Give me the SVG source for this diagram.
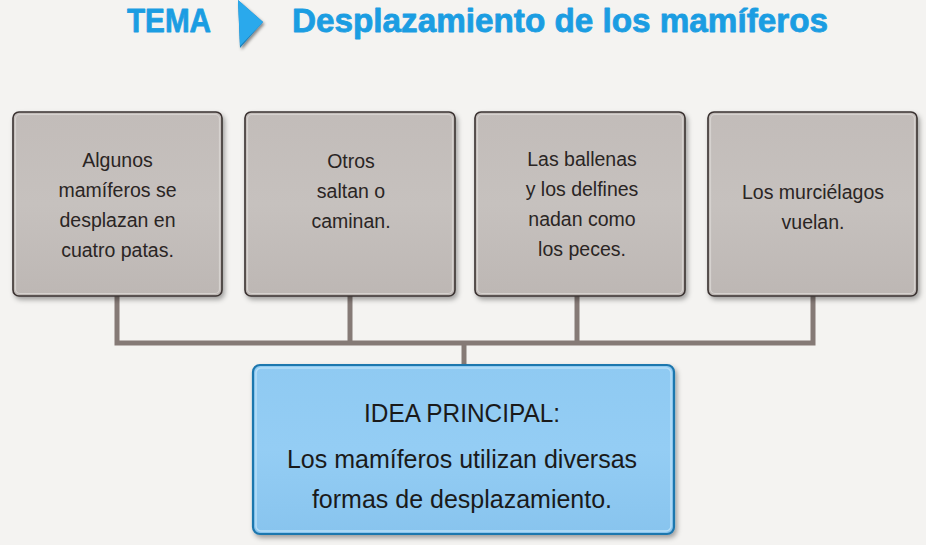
<svg xmlns="http://www.w3.org/2000/svg" width="926" height="545" viewBox="0 0 926 545">
  <defs>
    <linearGradient id="gray" x1="0" y1="0" x2="0" y2="1">
      <stop offset="0" stop-color="#c2bcb9"/>
      <stop offset="0.5" stop-color="#c6c1be"/>
      <stop offset="1" stop-color="#bdb7b4"/>
    </linearGradient>
    <linearGradient id="blue" x1="0" y1="0" x2="0" y2="1">
      <stop offset="0" stop-color="#8fcaf2"/>
      <stop offset="0.5" stop-color="#94cdf4"/>
      <stop offset="1" stop-color="#88c4ee"/>
    </linearGradient>
    <filter id="shadow" x="-10%" y="-10%" width="125%" height="125%">
      <feDropShadow dx="2" dy="3" stdDeviation="2.5" flood-color="#000" flood-opacity="0.35"/>
    </filter>
    <filter id="cshadow" x="-30%" y="-30%" width="180%" height="180%">
      <feDropShadow dx="1.5" dy="2" stdDeviation="1.5" flood-color="#000" flood-opacity="0.45"/>
    </filter>
  </defs>
  <style>
    .title { font-family: "Liberation Sans", Arial, sans-serif; font-weight: bold; font-size: 33px; fill: #1b9de2; stroke: #1b9de2; stroke-width: 0.8; stroke-linejoin: round; }
    .gbox { fill: url(#gray); stroke: #3a3230; stroke-width: 1.6; filter: url(#shadow); }
    .ghl { fill: none; stroke: #d6d2cf; stroke-width: 1.2; }
    .bbox { fill: url(#blue); stroke: #1f77ae; stroke-width: 2.2; filter: url(#shadow); }
    .bhl { fill: none; stroke: #b6def8; stroke-width: 1.5; }
    .txt { font-family: "Liberation Sans", Arial, sans-serif; font-size: 19.5px; fill: #2a2524; text-anchor: middle; }
    .head { font-family: "Liberation Sans", Arial, sans-serif; font-size: 25px; fill: #1a1a1a; text-anchor: middle; }
    .main { font-family: "Liberation Sans", Arial, sans-serif; font-size: 25px; fill: #1a1a1a; text-anchor: middle; }
    .conn { fill: none; stroke: #857a76; stroke-width: 5; }
  </style>
  <rect width="926" height="545" fill="#f4f3f1"/>

  <g id="title">
    <text class="title" x="127" y="32" textLength="84" lengthAdjust="spacingAndGlyphs">TEMA</text>
    <polygon points="238,0 263,22 240,48" fill="#1f7fb8" filter="url(#cshadow)"/>
    <polygon points="238,0 263,22 240,46" fill="#2aa9ec"/>
    <text class="title" x="292" y="32" textLength="536" lengthAdjust="spacingAndGlyphs">Desplazamiento de los mamíferos</text>
  </g>

  <g id="connectors">
    <polyline class="conn" points="117,296 117,343 813,343 813,296"/>
    <line class="conn" x1="350" y1="296" x2="350" y2="343"/>
    <line class="conn" x1="577" y1="296" x2="577" y2="343"/>
    <line class="conn" x1="464" y1="343" x2="464" y2="365"/>
  </g>

  <g id="node1">
    <rect class="gbox" x="13" y="112" width="209" height="184" rx="6"/>
    <rect class="ghl" x="15.5" y="114.5" width="204" height="179" rx="4.5"/>
    <text class="txt" x="117.5" y="167">Algunos</text>
    <text class="txt" x="117.5" y="197">mamíferos se</text>
    <text class="txt" x="117.5" y="227">desplazan en</text>
    <text class="txt" x="117.5" y="257">cuatro patas.</text>
  </g>

  <g id="node2">
    <rect class="gbox" x="245" y="112" width="210" height="184" rx="6"/>
    <rect class="ghl" x="247.5" y="114.5" width="205" height="179" rx="4.5"/>
    <text class="txt" x="351" y="168">Otros</text>
    <text class="txt" x="351" y="198">saltan o</text>
    <text class="txt" x="351" y="228">caminan.</text>
  </g>

  <g id="node3">
    <rect class="gbox" x="475" y="112" width="210" height="184" rx="6"/>
    <rect class="ghl" x="477.5" y="114.5" width="205" height="179" rx="4.5"/>
    <text class="txt" x="582" y="166">Las ballenas</text>
    <text class="txt" x="582" y="196">y los delfines</text>
    <text class="txt" x="582" y="226">nadan como</text>
    <text class="txt" x="582" y="256">los peces.</text>
  </g>

  <g id="node4">
    <rect class="gbox" x="708" y="112" width="209" height="184" rx="6"/>
    <rect class="ghl" x="710.5" y="114.5" width="204" height="179" rx="4.5"/>
    <text class="txt" x="813" y="199">Los murciélagos</text>
    <text class="txt" x="813" y="229">vuelan.</text>
  </g>

  <g id="main">
    <rect class="bbox" x="253" y="365" width="421" height="169" rx="7"/>
    <rect class="bhl" x="256" y="368" width="415" height="163" rx="5"/>
    <text class="head" x="462" y="422" textLength="196" lengthAdjust="spacingAndGlyphs">IDEA PRINCIPAL:</text>
    <text class="main" x="462" y="468">Los mamíferos utilizan diversas</text>
    <text class="main" x="462" y="508">formas de desplazamiento.</text>
  </g>
</svg>
